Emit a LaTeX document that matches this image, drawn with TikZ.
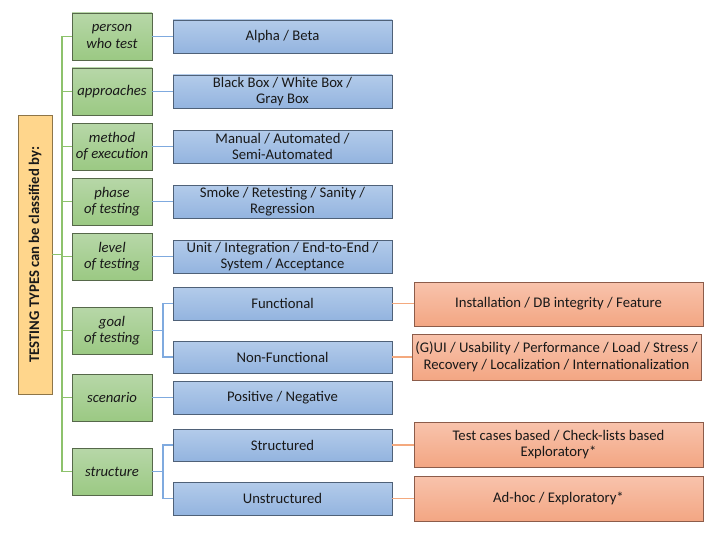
\documentclass[tikz,border=0pt]{standalone}
\usepackage{fontspec}
\setmainfont{Carlito}
\usetikzlibrary{calc}
\definecolor{gT}{HTML}{B7D7A8}\definecolor{gB}{HTML}{9BC983}\definecolor{gD}{HTML}{56684A}
\definecolor{bT}{HTML}{B3CBEA}\definecolor{bB}{HTML}{93B4DF}\definecolor{bD}{HTML}{4F6178}
\definecolor{oT}{HTML}{F8C3AC}\definecolor{oB}{HTML}{F3A683}\definecolor{oD}{HTML}{8C5C4A}
\definecolor{yF}{HTML}{FFD68C}\definecolor{yD}{HTML}{8E7548}
\definecolor{gL}{HTML}{8DC26C}\definecolor{bL}{HTML}{7FAADF}\definecolor{oL}{HTML}{F4A97E}
\tikzset{
  basebox/.style={draw, line width=0.9pt, inner sep=0pt, align=center, font=\fontsize{14.7}{16.5}\selectfont, text=black!90},
  gbox/.style={basebox, draw=gD, top color=gT, bottom color=gB, minimum width=80pt, minimum height=47pt, font=\fontsize{14.7}{16.5}\selectfont\itshape},
  bbox/.style={basebox, draw=bD, top color=bT, bottom color=bB, minimum width=219pt, minimum height=33pt},
  obox/.style={basebox, draw=oD, top color=oT, bottom color=oB, minimum width=289pt, minimum height=45pt},
  ybox/.style={basebox, draw=yD, fill=yF, rotate=90, minimum width=279pt, minimum height=34pt, font=\fontsize{14.7}{16.5}\selectfont\bfseries},
  gline/.style={draw=gL, line width=1.2pt},
  bline/.style={draw=bL, line width=1.2pt},
  oline/.style={draw=oL, line width=1.2pt},
}
\begin{document}
\begin{tikzpicture}[x=1pt,y=-1pt]
\useasboundingbox (0,0) rectangle (720,535);
\fill[white] (0,0) rectangle (720,535);
% yellow
\node[ybox] (Y) at (35,254.5) {TESTING TYPES can be classified by:};
% green
\node[gbox] (g1) at (112,36.5) {person\\who test};
\node[gbox] (g2) at (112,91.5) {approaches};
\node[gbox] (g3) at (112,146.5) {method\\of execution};
\node[gbox] (g4) at (112,201.5) {phase\\of testing};
\node[gbox] (g5) at (112,256.5) {level\\of testing};
\node[gbox] (g6) at (112,330.5) {goal\\of testing};
\node[gbox] (g7) at (112,397.5) {scenario};
\node[gbox] (g8) at (112,471.5) {structure};
% blue
\node[bbox] (b1) at (282.5,36.5) {Alpha / Beta};
\node[bbox] (b2) at (282.5,91.5) {Black Box / White Box /\\Gray Box};
\node[bbox] (b3) at (282.5,146.5) {Manual / Automated /\\Semi-Automated};
\node[bbox] (b4) at (282.5,201.5) {Smoke / Retesting / Sanity /\\Regression};
\node[bbox] (b5) at (282.5,256.5) {Unit / Integration / End-to-End /\\System / Acceptance};
\node[bbox] (b6) at (282.5,303.5) {Functional};
\node[bbox, minimum height=32pt] (b7) at (282.5,357) {Non-Functional};
\node[bbox] (b8) at (282.5,397.5) {Positive / Negative};
\node[bbox, minimum height=32pt] (b9) at (282.5,445) {Structured};
\node[bbox] (b10) at (282.5,498.5) {Unstructured};
% orange
\node[obox, minimum height=44pt] (o1) at (558.5,304) {Installation / DB integrity / Feature};
\node[obox, minimum height=46pt] (o2) at (556.5,357) {(G)UI / Usability / Performance / Load / Stress /\\Recovery / Localization / Internationalization};
\node[obox] (o3) at (558.5,444.5) {Test cases based / Check-lists based\\Exploratory*};
\node[obox] (o4) at (558.5,498.5) {Ad-hoc / Exploratory*};
% green trunk
\coordinate (tT) at (62,36.5);
\coordinate (tB) at (62,471.5);
\draw[gline] (tT) -- (tB);
\draw[gline] (Y.south) -- (Y.south -| tT);
\foreach \g in {g1,g2,g3,g4,g5,g6,g7,g8}{\draw[gline] (\g.west) -- (\g.west -| tT);}
% blue links
\foreach \g/\b in {g1/b1,g2/b2,g3/b3,g4/b4,g5/b5,g7/b8}{\draw[bline] (\g.east) -- (\b.west);}
\coordinate (f1) at (163,330.5);
\coordinate (f2) at (163,471.5);
\draw[bline] (g6.east) -- (f1);
\draw[bline] (b6.west) -| (f1) |- (b7.west);
\draw[bline] (g8.east) -- (f2);
\draw[bline] (b9.west) -| (f2) |- (b10.west);
% orange links
\draw[oline] (b6.east) -- (b6.east -| o1.west);
\draw[oline] (b7.east) -- (b7.east -| o2.west);
\draw[oline] (b9.east) -- (b9.east -| o3.west);
\draw[oline] (b10.east) -- (b10.east -| o4.west);
\end{tikzpicture}
\end{document}
